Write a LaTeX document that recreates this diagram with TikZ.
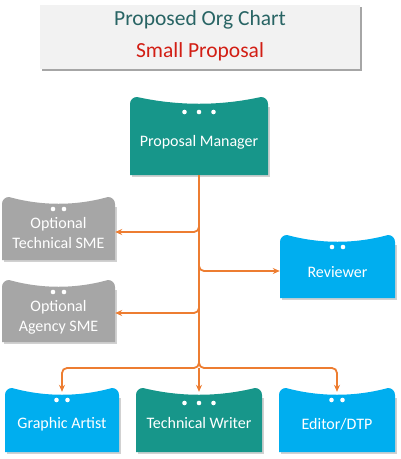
\documentclass[tikz,border=0pt]{standalone}
\usepackage{fontspec}
\setmainfont{Carlito}
\usetikzlibrary{arrows.meta}
\definecolor{tealc}{RGB}{23,150,138}
\definecolor{bluec}{RGB}{0,174,239}
\definecolor{grayc}{RGB}{166,166,166}
\definecolor{orangec}{RGB}{237,125,49}
\definecolor{titlec}{RGB}{40,100,100}
\definecolor{redc}{RGB}{210,30,20}
\definecolor{titlebg}{RGB}{242,242,242}
\tikzset{
  conn/.style={draw=orangec, line width=1.8pt, rounded corners=5pt, -{Stealth[length=7pt,width=6pt]}},
  boxtext/.style={text=white, font=\fontsize{16}{20}\selectfont, align=center, inner sep=0pt},
  anchorbox/.style={draw=none, inner sep=0pt},
  shadowc/.style={fill=black!30, opacity=0.6},
}
% #1 name, #2 x0, #3 x1, #4 top, #5 bottom, #6 colour, #7 dots, #8 text, #9 text y
\newcommand\orgbox[9]{%
  \pgfmathsetmacro\oax{#2}\pgfmathsetmacro\obx{#3}%
  \pgfmathsetmacro\otY{#4}\pgfmathsetmacro\obY{#5}%
  \pgfmathsetmacro\ocx{(#2+#3)/2}\pgfmathsetmacro\owd{#3-#2}%
  \pgfmathsetmacro\ocy{(#4+#5)/2}\pgfmathsetmacro\oht{#5-#4}%
  \fill[shadowc] (\oax+2,\obY+2) rectangle (\obx+2,\otY+10);
  \fill[#6] (\oax,\obY) -- (\oax,\otY+7) .. controls (\oax,\otY+3) and (\oax+3,\otY) .. (\oax+7,\otY)
     .. controls ({\oax+0.35*\owd},\otY+9) and ({\obx-0.35*\owd},\otY+9) .. (\obx-7,\otY)
     .. controls (\obx-3,\otY) and (\obx,\otY+3) .. (\obx,\otY+7) -- (\obx,\obY) -- cycle;
  \node[anchorbox, minimum width=\owd pt, minimum height=\oht pt] (#1) at (\ocx,\ocy) {};
  \ifnum#7=3
    \foreach \dx in {-14.5,0,14.5} \fill[white] (\ocx+\dx,\otY+15) circle[radius=2.3pt];
  \else
    \foreach \dx in {-5.5,5.5} \fill[white] (\ocx+\dx,\otY+12) circle[radius=2.3pt];
  \fi
  \node[boxtext] (#1-t) at (\ocx,#9) {#8};
}
\begin{document}
\begin{tikzpicture}[x=1pt,y=-1pt]
\useasboundingbox (0,0) rectangle (400,459);
% title
\fill[black!35] (42,7) rectangle (362,71);
\node[draw=none, fill=titlebg, minimum width=320pt, minimum height=64pt, inner sep=0pt] (title) at (200,37) {};
\node[text=titlec, font=\fontsize{21.5}{24}\selectfont, inner sep=0pt] (t1) at (200,20) {Proposed Org Chart};
\node[text=redc, font=\fontsize{21.5}{24}\selectfont, inner sep=0pt] (t2) at (200,52) {Small Proposal};
% boxes
\orgbox{pm}{130}{268}{97}{175}{tealc}{3}{Proposal Manager}{142}
\orgbox{tsme}{2}{115}{197}{260}{grayc}{2}{Optional\\Technical SME}{233}
\orgbox{asme}{2}{115}{280}{342}{grayc}{2}{Optional\\Agency SME}{317}
\orgbox{rev}{280}{395}{235}{298}{bluec}{2}{Reviewer}{272}
\orgbox{ga}{5}{119}{388}{452}{bluec}{2}{Graphic Artist}{424}
\orgbox{tw}{136}{262}{388}{452}{tealc}{3}{Technical Writer}{423}
\orgbox{ed}{279}{395}{388}{452}{bluec}{2}{Editor/DTP}{424}
% connectors
\coordinate (hub) at (199,368);
\draw[conn] (pm.south) |- ([yshift=-3.5pt]tsme.east);
\draw[conn] (pm.south) |- ([yshift=-2pt]asme.east);
\draw[conn] (pm.south) |- ([yshift=-4.5pt]rev.west);
\draw[conn] (pm.south) -- (hub) -| ([yshift=-4pt]ga.north);
\draw[conn] (pm.south) -- (hub) -| ([yshift=-4pt]ed.north);
\draw[conn] (hub) -- ([yshift=-4pt]tw.north);
\end{tikzpicture}
\end{document}
